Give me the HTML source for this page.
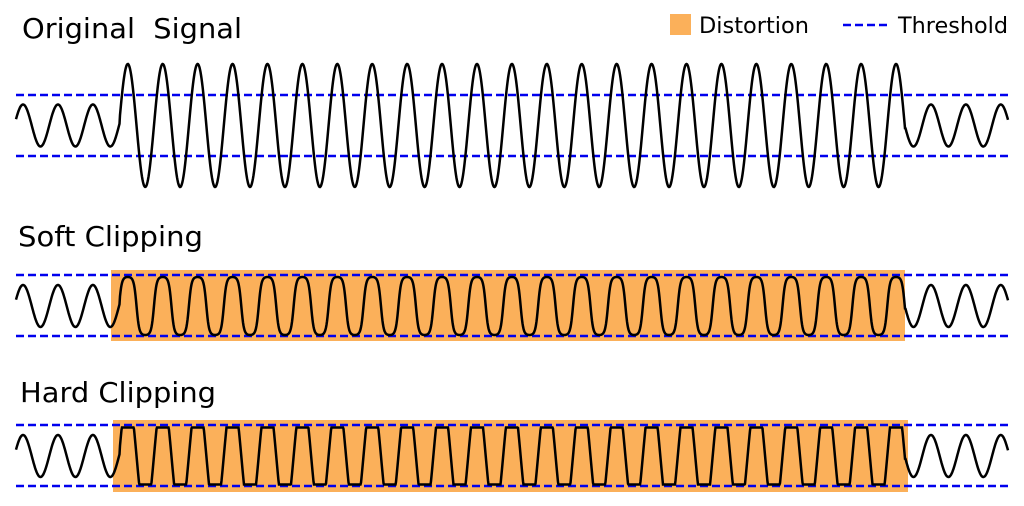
<!DOCTYPE html>
<html><head><meta charset="utf-8"><style>
html,body{margin:0;padding:0;background:#fff;width:1024px;height:506px;overflow:hidden}
svg text{font-family:"DejaVu Sans","Liberation Sans",sans-serif;fill:#000}
</style></head><body>
<svg id="s" width="1024" height="506" viewBox="0 0 1024 506" xmlns="http://www.w3.org/2000/svg">
<text x="22" y="38" font-size="28" textLength="220" lengthAdjust="spacingAndGlyphs" xml:space="preserve">Original  Signal</text>
<text x="18" y="246" font-size="28" textLength="185" lengthAdjust="spacingAndGlyphs">Soft Clipping</text>
<text x="20" y="402" font-size="28" textLength="196" lengthAdjust="spacingAndGlyphs">Hard Clipping</text>
<rect x="670" y="14" width="21" height="21" fill="#fbb05a"/>
<text x="699" y="33" font-size="22" textLength="110" lengthAdjust="spacingAndGlyphs">Distortion</text>
<line x1="843" y1="25" x2="888" y2="25" stroke="#0000ee" stroke-width="2.5" stroke-dasharray="8,4"/>
<text x="898" y="33" font-size="22" textLength="110" lengthAdjust="spacingAndGlyphs">Threshold</text>
<rect x="111" y="270" width="794" height="71" fill="#fbb05a"/>
<rect x="113" y="420" width="795" height="72" fill="#fbb05a"/>
<g stroke="#0000ee" stroke-width="2.5" stroke-dasharray="8,4">
<line x1="16" y1="95" x2="1008" y2="95"/><line x1="16" y1="156" x2="1008" y2="156"/>
<line x1="16" y1="275" x2="1008" y2="275"/><line x1="16" y1="336" x2="1008" y2="336"/>
<line x1="16" y1="425" x2="1008" y2="425"/><line x1="16" y1="486" x2="1008" y2="486"/>
</g>
<path id="p1" fill="none" stroke="#000" stroke-width="2.5"/>
<path id="p2" fill="none" stroke="#000" stroke-width="2.5"/>
<path id="p3" fill="none" stroke="#000" stroke-width="2.5"/>
</svg>
<script>
var P=34.92,x0=14.3,a=120,b=905;
function mk(cy,mode){var d="";for(var x=16;x<=1008;x+=0.5){var s=Math.sin(2*Math.PI*(x-x0)/P),v;
if(x<a||x>b)v=21*s;else if(mode==0)v=61.5*s;else if(mode==1)v=29*Math.tanh(2.0*s)/Math.tanh(2.0);else v=Math.max(-28.5,Math.min(28.5,61.5*s));
d+=(d?"L":"M")+x.toFixed(1)+","+(cy-v).toFixed(1);}return d;}
document.getElementById("p1").setAttribute("d",mk(125.5,0));
document.getElementById("p2").setAttribute("d",mk(306,1));
document.getElementById("p3").setAttribute("d",mk(456,2));
</script>
</body></html>
